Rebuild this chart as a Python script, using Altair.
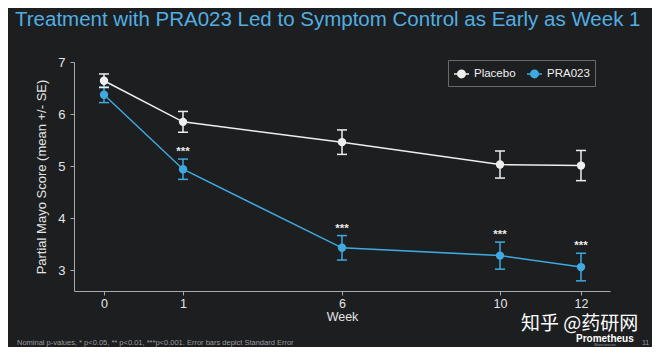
import altair as alt
import pandas as pd

# ---- data ----
weeks = [0, 1, 6, 10, 12]
placebo_mean = [6.64, 5.85, 5.46, 5.03, 5.01]
placebo_se = [0.13, 0.20, 0.235, 0.26, 0.29]
pra_mean = [6.37, 4.94, 3.43, 3.28, 3.06]
pra_se = [0.15, 0.195, 0.235, 0.26, 0.265]
pra_sig = ["", "***", "***", "***", "***"]
groups = ["Placebo", "PRA023"]
x_ticks = [0, 1, 6, 10, 12]
y_ticks = [3, 4, 5, 6, 7]

title_text = "Treatment with PRA023 Led to Symptom Control as Early as Week 1"
foot_text = "Nominal p-values, * p<0.05, ** p<0.01, ***p<0.001. Error bars depict Standard Error"
mark_text_wm = "知乎 @药研网"

rows = []
for w, m, s in zip(weeks, placebo_mean, placebo_se):
    rows.append({"week": w, "group": "Placebo", "mean": m, "lo": m - s, "hi": m + s, "sig": ""})
for w, m, s, g in zip(weeks, pra_mean, pra_se, pra_sig):
    rows.append({"week": w, "group": "PRA023", "mean": m, "lo": m - s, "hi": m + s, "sig": g})
df = pd.DataFrame(rows)

FONT = "Liberation Sans"
BG = "#1c1e20"
COLORS = ["#eeeeee", "#3fa9e0"]

W, H = 536, 229

xscale = alt.Scale(domain=[-1, 0, 1, 6, 10, 12, 13], range=[0, 30, 109, 268, 426, 507, 536],
                   nice=False, zero=False)
yscale = alt.Scale(domain=[2.6, 7], nice=False, zero=False)
cscale = alt.Scale(domain=groups, range=COLORS)

xaxis = alt.Axis(values=x_ticks, title="Week", grid=False, tickSize=4, labelPadding=2,
                 domainColor="#a9a9a9", tickColor="#a9a9a9", labelColor="#e4e4e4",
                 titleColor="#e4e4e4", labelFontSize=12.5, titleFontSize=12.5,
                 titleFontWeight="normal", titleY=25, titleBaseline="middle",
                 labelFont=FONT, titleFont=FONT, format="d")
yaxis = alt.Axis(values=y_ticks, title="Partial Mayo Score (mean +/- SE)", grid=False,
                 tickSize=4, labelPadding=5, domainColor="#a9a9a9", tickColor="#a9a9a9",
                 labelColor="#e4e4e4", titleColor="#e4e4e4", labelFontSize=13,
                 titleFontSize=13, titleFontWeight="normal", titleX=-33, titleY=H / 2,
                 titleAngle=270, titleBaseline="middle", titleAlign="center",
                 labelFont=FONT, titleFont=FONT, format="d")

legend = alt.Legend(
    title=None, orient="none", legendX=374, legendY=-2, direction="horizontal",
    symbolType="M-1,0L1,0M-0.5,0A0.5,0.5,0,1,1,0.5,0A0.5,0.5,0,1,1,-0.5,0",
    symbolSize=225, symbolStrokeWidth=1.5, labelColor="#f0f0f0", labelFontSize=11.5,
    labelFont=FONT, strokeColor="#6a6a6a", padding=5, columnPadding=8, symbolOffset=0,
    labelOffset=4, symbolOpacity=1,
)

base = alt.Chart(df)
x = alt.X("week:Q", scale=xscale, axis=xaxis)
y = alt.Y("mean:Q", scale=yscale, axis=yaxis)
color = alt.Color("group:N", scale=cscale, legend=legend)

lines = base.mark_line(strokeWidth=1.5).encode(x=x, y=y, color=color)
bars = base.mark_rule(strokeWidth=1.5).encode(
    x="week:Q", y=alt.Y("lo:Q", scale=yscale), y2="hi:Q", color=color)
caps_hi = base.mark_tick(orient="horizontal", size=10, thickness=1.5, opacity=1).encode(
    x="week:Q", y=alt.Y("hi:Q", scale=yscale), color=color)
caps_lo = base.mark_tick(orient="horizontal", size=10, thickness=1.5, opacity=1).encode(
    x="week:Q", y=alt.Y("lo:Q", scale=yscale), color=color)
points = base.mark_point(filled=True, size=70, opacity=1).encode(x="week:Q", y="mean:Q", color=color)
stars = base.mark_text(font=FONT, fontSize=11.5, fontWeight="bold", color="#ececec",
                       baseline="middle", dy=-7).encode(
    x="week:Q", y=alt.Y("hi:Q", scale=yscale), text="sig:N")

def label(txt, xv, yv, size, color, align="left", baseline="middle", weight="normal", font=FONT):
    return alt.Chart(pd.DataFrame({"t": [txt]})).mark_text(
        align=align, baseline=baseline, fontSize=size, color=color, fontWeight=weight,
        font=font).encode(text="t:N", x=alt.value(xv), y=alt.value(yv))

title = label(title_text, -59, -36, 20.5, "#52aee2", baseline="alphabetic")
foot = label(foot_text, -57, 281, 7.5, "#9c9c9c")
wm = label(mark_text_wm, 447, 262, 19, "#ffffff", font="Noto Sans CJK SC")
prom = label("Prometheus", 502, 277, 10, "#ffffff", weight="bold")
bio = label("Biosciences", 531, 283, 4, "#9a9a9a", align="center")
page = label("11", 568, 281, 7, "#9c9c9c")

chart = alt.layer(lines, bars, caps_hi, caps_lo, points, stars, title, foot, wm, prom, bio, page).properties(
    width=W, height=H, background=BG,
    autosize=alt.AutoSizeParams(type="none"),
    padding={"left": 66, "top": 54, "right": 42, "bottom": 56},
).configure_view(stroke=None)

chart.save("out.html", embed_options={"renderer": "svg", "actions": False})
